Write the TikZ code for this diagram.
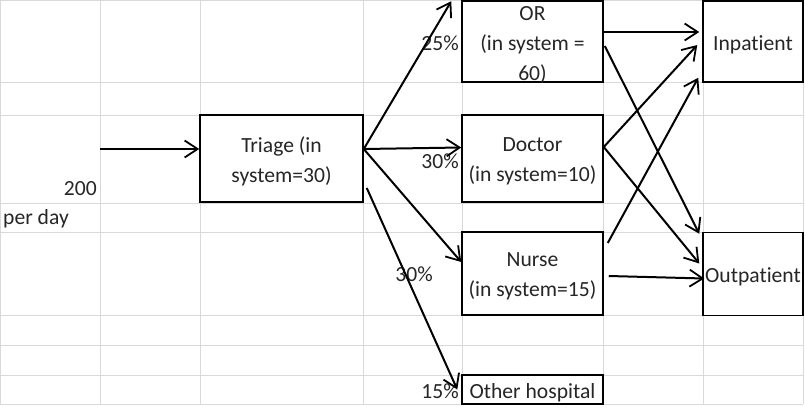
\documentclass[tikz,border=0pt]{standalone}
\usepackage{fontspec}
\setmainfont[Ligatures=NoCommon]{Carlito}
\usetikzlibrary{arrows.meta}

\begin{document}
\begin{tikzpicture}[x=1pt, y=-1pt,
  box/.style={draw, fill=white, line width=1.5pt, inner sep=0pt},
  txt/.style={align=center, inner sep=0pt, text=black!85, font=\fontsize{21.6}{30}\selectfont},
  boxtxt/.style={txt, yshift=-3pt},
  flow/.style={-{Straight Barb[length=13pt, width=17pt, line width=1.8pt]}, line width=2pt}]
\useasboundingbox (0,0) rectangle (805,407);

% sheet grid
\foreach \x in {0.5,100,200,363,462,603,703,803}
  \draw[black!15, line width=1pt] (\x,0) -- (\x,404);
\foreach \y in {0.5,82,115,203,232,315,345,375,404}
  \draw[black!15, line width=1pt] (0,\y) -- (803,\y);

\node[box, minimum width=163, minimum height=87, label={[boxtxt]center:Triage (in\\system=30)}] (triage) at (281.5,158.5) {};
\node[box, minimum width=141, minimum height=81, label={[boxtxt]center:OR\\(in system =\\60)}] (opr) at (532.5,41.5) {};
\node[box, minimum width=141, minimum height=87, label={[boxtxt]center:Doctor\\(in system=10)}] (doctor) at (532.5,158.5) {};
\node[box, minimum width=141, minimum height=83, label={[boxtxt]center:Nurse\\(in system=15)}] (nurse) at (532.5,273.5) {};
\node[box, minimum width=141, minimum height=29, label={[boxtxt]center:Other hospital}] (other) at (532.5,389.5) {};
\node[box, minimum width=100, minimum height=81, label={[boxtxt]center:Inpatient}] (inpat) at (753,41.5) {};
\node[box, minimum width=100, minimum height=83, label={[boxtxt]center:Outpatient}] (outpat) at (753,274) {};

\node[txt, anchor=east] (rate) at (97,189) {200};
\node[txt, anchor=west] (unit) at (3,219) {per day};
\node[txt, anchor=east] (p25) at (459,43) {25\%};
\node[txt, anchor=east] (p30a) at (459,161) {30\%};
\node[txt, anchor=east] (p30b) at (433,274) {30\%};
\node[txt, anchor=east] (p15) at (459,391) {15\%};

\coordinate (src) at (100,149);

\draw [flow] (src) -- ([yshift=9.5pt]triage.west);
\draw [flow] ([yshift=9.5pt]triage.east) -- ([xshift=-10pt,yshift=-1pt]opr.north west);
\draw [flow] ([yshift=9.5pt]triage.east) -- ([yshift=11pt]doctor.west);
\draw [flow] ([yshift=9.5pt]triage.east) -- ([yshift=11.5pt]nurse.west);
\draw [flow] ([shift={(3pt,-29.5pt)}]triage.east) -- ([xshift=-4pt]other.west);

\draw [flow] ([yshift=9.5pt]opr.east) -- ([shift={(-3pt,9.5pt)}]inpat.west);
\draw [flow] ([shift={(1pt,-4.5pt)}]opr.east) -- ([shift={(-3pt,-2pt)}]outpat.north west);
\draw [flow] ([yshift=11.5pt]doctor.east) -- ([shift={(-5pt,-3.5pt)}]inpat.west);
\draw [flow] ([yshift=11.5pt]doctor.east) -- ([shift={(-3pt,10.5pt)}]outpat.west);
\draw [flow] ([shift={(4pt,30.5pt)}]nurse.east) -- ([shift={(-4pt,5pt)}]inpat.south west);
\draw [flow] ([shift={(5pt,-2.5pt)}]nurse.east) -- ([shift={(2pt,-4.5pt)}]outpat.west);

\end{tikzpicture}
\end{document}
